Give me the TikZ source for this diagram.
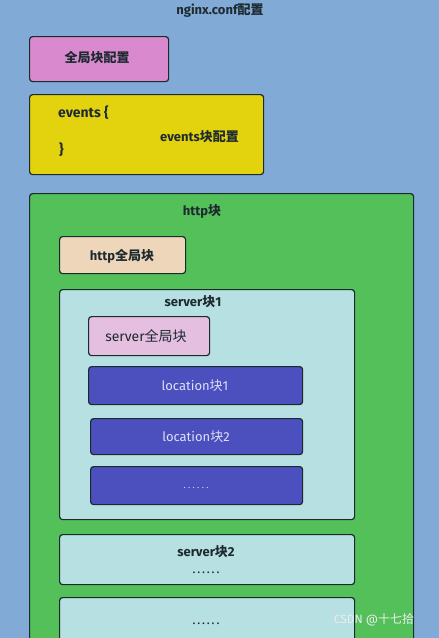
\documentclass[tikz,border=0pt]{standalone}
\usepackage{fontspec}
\setmainfont{Fira Sans}
\newfontfamily\cjk{Noto Sans CJK SC}
\newcommand\spdots{.\hspace{2.4pt}.\hspace{2.4pt}.\hspace{2.4pt}.\hspace{2.4pt}.\hspace{2.4pt}.}
\definecolor{bgblue}{HTML}{82AAD6}
\definecolor{pinkbox}{HTML}{D98ACF}
\definecolor{yellowbox}{HTML}{E3D30F}
\definecolor{greenbox}{HTML}{53C05A}
\definecolor{beigebox}{HTML}{EDD6BA}
\definecolor{cyanbox}{HTML}{B6E0E1}
\definecolor{lightpink}{HTML}{E4BFE0}
\definecolor{locblue}{HTML}{4B50BE}
\definecolor{loctext}{HTML}{E0E0F5}
\definecolor{edge}{HTML}{1B2B2B}
\definecolor{txt}{HTML}{1E2A30}
\begin{document}
\begin{tikzpicture}[x=1pt,y=-1pt,
  blk/.style={draw=edge, line width=1.2pt, rounded corners=3pt, anchor=north west, inner sep=0pt},
  lbl/.style={text=txt, font=\bfseries\fontsize{13}{15}\selectfont, inner sep=0pt},
  loclbl/.style={text=loctext, font=\fontsize{13}{15}\selectfont, inner sep=0pt}]
\fill[bgblue] (0,0) rectangle (439,638);
\useasboundingbox (0,0) rectangle (439,638);
\clip (0,0) rectangle (439,638);
% boxes
\node[blk, fill=pinkbox, minimum width=139pt, minimum height=45pt] (global) at (29,36) {};
\node[blk, fill=yellowbox, minimum width=234pt, minimum height=80pt] (events) at (29,94) {};
\node[blk, fill=greenbox, minimum width=384pt, minimum height=470pt] (http) at (29,193) {};
\node[blk, fill=beigebox, minimum width=126pt, minimum height=37pt] (httpglobal) at (59,236) {};
\node[blk, fill=cyanbox, minimum width=295pt, minimum height=230pt] (server1) at (59,289) {};
\node[blk, fill=lightpink, minimum width=121pt, minimum height=39pt] (serverglobal) at (88,316) {};
\node[blk, fill=locblue, minimum width=214pt, minimum height=38pt] (loc1) at (88,366) {};
\node[blk, fill=locblue, minimum width=212pt, minimum height=36pt] (loc2) at (90,418) {};
\node[blk, fill=locblue, minimum width=212pt, minimum height=38pt] (loc3) at (90,466) {};
\node[blk, fill=cyanbox, minimum width=295pt, minimum height=50pt] (server2) at (59,534) {};
\node[blk, fill=cyanbox, minimum width=295pt, minimum height=70pt] (server3) at (59,597) {};
% texts
\node[lbl] (title) at (220,11) {nginx.conf{\cjk 配置}};
\node[lbl] (globaltxt) at (97,58) {{\cjk 全局块配置}};
\node[lbl, anchor=west, font=\bfseries\fontsize{14}{16}\selectfont] (evopen) at (58,113) {events \{};
\node[lbl, anchor=west, font=\bfseries\fontsize{14}{16}\selectfont] (evclose) at (59,150) {\}};
\node[lbl, anchor=west] (evtxt) at (160,137) {events{\cjk 块配置}};
\node[lbl] (httptxt) at (202,211) {http{\cjk 块}};
\node[lbl] (httpglobaltxt) at (122,256) {http{\cjk 全局块}};
\node[lbl] (server1txt) at (193,302) {server{\cjk 块}1};
\node[lbl, font=\fontsize{14}{16}\selectfont] (serverglobaltxt) at (146,336) {server{\cjk 全局块}};
\node[loclbl] (loc1txt) at (195,386) {location{\cjk 块}1};
\node[loclbl] (loc2txt) at (196,437) {location{\cjk 块}2};
\node[loclbl, font=\fontsize{9}{10}\selectfont] (loc3txt) at (196,488) {\spdots};
\node[lbl] (server2txt) at (206,552) {server{\cjk 块}2};
\node[lbl, font=\bfseries\fontsize{10}{10}\selectfont] (server2dots) at (206,573) {\spdots};
\node[lbl, font=\bfseries\fontsize{10}{10}\selectfont] (server3dots) at (206,624) {\spdots};
\node[text=white!85!gray, font=\fontsize{12}{14}\selectfont, inner sep=0pt] (mark) at (374,620) {CSDN @{\cjk 十七拾}};
\end{tikzpicture}
\end{document}
